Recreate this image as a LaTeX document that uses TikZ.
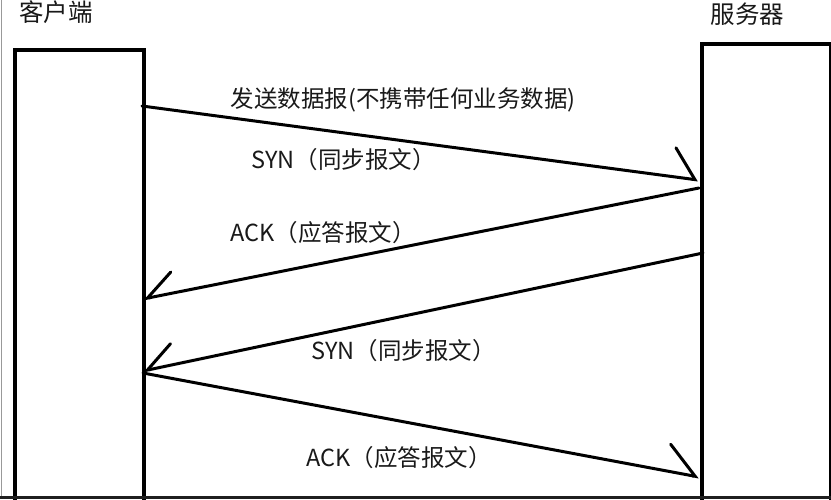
\documentclass[tikz,border=0pt]{standalone}
\usepackage{fontspec}
\setmainfont{Noto Sans CJK SC}
\usetikzlibrary{arrows.meta}

\begin{document}
\begin{tikzpicture}[x=1pt, y=-1pt,
    box/.style={rectangle, draw=black, line width=4pt, fill=white, anchor=north west, minimum height=540pt, inner sep=0pt},
    head/.style={font=\fontsize{24.5}{28}\selectfont, text=black!90},
    msg/.style={font=\fontsize{23.5}{27}\selectfont, text=black!90},
    sig/.style={draw=black, line width=3pt, line cap=round},
    toright/.style={-{Straight Barb[harpoon, length=23pt, width=58pt, line cap=round]}},
    toleft/.style={-{Straight Barb[harpoon, swap, length=28pt, width=42pt, line cap=round]}}
]
    \useasboundingbox (0,0) rectangle (831,499);
    \clip (0,0) rectangle (831,499);

    % Client and server lifelines
    \node[box, minimum width=129.5pt] (client) at (12.5,48) {};
    \node[box, line width=3.5pt, minimum width=129pt] (server) at (700,42) {};
    \node[head] (clientname) at (56,12) {客户端};
    \node[head] (servername) at (747.5,14) {服务器};

    % Points where the messages leave and arrive
    \coordinate (c1) at (142,106);
    \coordinate (s1) at (698,180);
    \coordinate (s2) at (699,188);
    \coordinate (c2) at (143,299);
    \coordinate (s3) at (703,253);
    \coordinate (c3) at (143,371);
    \coordinate (c4) at (143,373);
    \coordinate (s4) at (699,477);

    % Messages
    \draw[sig, toright] (c1) -- (s1);
    \draw[sig, toleft] (s2) -- (c2);
    \draw[sig, toleft] (s3) -- (c3);
    \draw[sig, -{Straight Barb[harpoon, length=30pt, width=54pt, line cap=round]}] (c4) -- (s4);

    \node[msg] (m1) at (403,100) {发送数据报(不携带任何业务数据)};
    \node[msg] (m2) at (343.5,160) {SYN（同步报文）};
    \node[msg] (m3) at (323,233) {ACK（应答报文）};
    \node[msg] (m4) at (403.5,351) {SYN（同步报文）};
    \node[msg] (m5) at (399,458) {ACK（应答报文）};

    % Window frame
    \draw[black!40, line width=1pt] (1,0) -- (1,496);
    \fill[black!88] (0,495.5) rectangle (831,499);
\end{tikzpicture}
\end{document}
